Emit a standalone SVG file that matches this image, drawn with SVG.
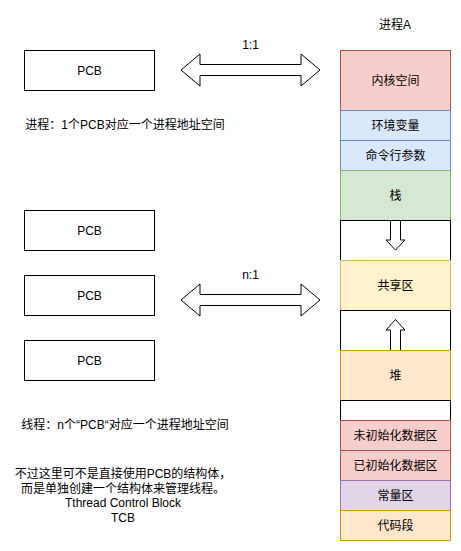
<svg xmlns="http://www.w3.org/2000/svg" width="461" height="551" viewBox="0 0 461 551">
<style>
text{font-family:"Liberation Sans","Noto Sans CJK SC",Arial,sans-serif;font-size:12px;fill:#000;}
.c{text-anchor:middle;}
.box{fill:#fff;stroke:#000;stroke-width:1;}
.red{fill:#f8cecc;stroke:#b85450;}
.blue{fill:#dae8fc;stroke:#6c8ebf;}
.green{fill:#d5e8d4;stroke:#82b366;}
.yellow{fill:#fff2cc;stroke:#d6b656;}
.orange{fill:#ffe6cc;stroke:#d79b00;}
.purple{fill:#e1d5e7;stroke:#9673a6;}
.white{fill:#fff;stroke:#000;}
.arr{fill:#fff;stroke:#000;stroke-width:1;stroke-linejoin:miter;}
</style>
<rect width="461" height="551" fill="#fff"/>
<g id="pcb1"><rect class="box" x="24.5" y="50.5" width="130" height="40"/><text class="c" x="89.5" y="74.5">PCB</text></g>
<g id="pcb2"><rect class="box" x="24.5" y="210.5" width="130" height="40"/><text class="c" x="89.5" y="234.5">PCB</text></g>
<g id="pcb3"><rect class="box" x="24.5" y="275.5" width="130" height="40"/><text class="c" x="89.5" y="299.5">PCB</text></g>
<g id="pcb4"><rect class="box" x="24.5" y="340.5" width="130" height="40"/><text class="c" x="89.5" y="364.5">PCB</text></g>
<g id="connectors">
<path class="arr" d="M181,70 L200,54 L200,64.5 L301,64.5 L301,54 L320,70 L301,86 L301,75.5 L200,75.5 L200,86 Z"/>
<path class="arr" d="M181,300 L200,284 L200,294.5 L301,294.5 L301,284 L320,300 L301,316 L301,305.5 L200,305.5 L200,316 Z"/>
</g>
<g id="label-11"><text class="c" x="250.5" y="49">1:1</text></g>
<g id="label-n1"><text class="c" x="250.5" y="279">n:1</text></g>
<g id="process-title"><text class="c" x="395" y="29">进程A</text></g>
<g id="process-column">
<g id="seg-kernel"><rect class="red" x="340.5" y="50.5" width="110" height="60"/><text class="c" x="395.5" y="84.5">内核空间</text></g>
<g id="seg-env"><rect class="blue" x="340.5" y="110.5" width="110" height="30"/><text class="c" x="395.5" y="129.5">环境变量</text></g>
<g id="seg-args"><rect class="blue" x="340.5" y="140.5" width="110" height="30"/><text class="c" x="395.5" y="159.5">命令行参数</text></g>
<g id="seg-stack"><rect class="green" x="340.5" y="170.5" width="110" height="50"/><text class="c" x="395.5" y="199.5">栈</text></g>
<g id="seg-gap1"><rect class="white" x="340.5" y="220.5" width="110" height="40"/>
<path class="arr" d="M390.5,220.5 L400.5,220.5 L400.5,240 L405,240 L395.5,250 L386,240 L390.5,240 Z"/></g>
<g id="seg-shared"><rect class="yellow" x="340.5" y="260.5" width="110" height="50"/><text class="c" x="395.5" y="289.5">共享区</text></g>
<g id="seg-gap2"><rect class="white" x="340.5" y="310.5" width="110" height="40"/>
<path class="arr" d="M390.5,350.5 L400.5,350.5 L400.5,330 L405,330 L395.5,319.5 L386,330 L390.5,330 Z"/></g>
<g id="seg-heap"><rect class="orange" x="340.5" y="350.5" width="110" height="50"/><text class="c" x="395.5" y="379.5">堆</text></g>
<g id="seg-gap3"><rect class="white" x="340.5" y="400.5" width="110" height="20"/></g>
<g id="seg-bss"><rect class="red" x="340.5" y="420.5" width="110" height="30"/><text class="c" x="395.5" y="439.5">未初始化数据区</text></g>
<g id="seg-data"><rect class="red" x="340.5" y="450.5" width="110" height="30"/><text class="c" x="395.5" y="469.5">已初始化数据区</text></g>
<g id="seg-const"><rect class="purple" x="340.5" y="480.5" width="110" height="30"/><text class="c" x="395.5" y="499.5">常量区</text></g>
<g id="seg-code"><rect class="orange" x="340.5" y="510.5" width="110" height="30"/><text class="c" x="395.5" y="529.5">代码段</text></g>
</g>
<g id="note-process"><text class="c" x="125" y="129">进程：1个PCB对应一个进程地址空间</text></g>
<g id="note-thread"><text class="c" x="125" y="429">线程：n个“PCB“对应一个进程地址空间</text></g>
<g id="note-tcb">
<text class="c" x="123" y="478">不过这里可不是直接使用PCB的结构体，</text>
<text class="c" x="123" y="492.5">而是单独创建一个结构体来管理线程。</text>
<text class="c" x="123" y="507">Tthread Control Block</text>
<text class="c" x="123" y="521.5">TCB</text>
</g>
</svg>
